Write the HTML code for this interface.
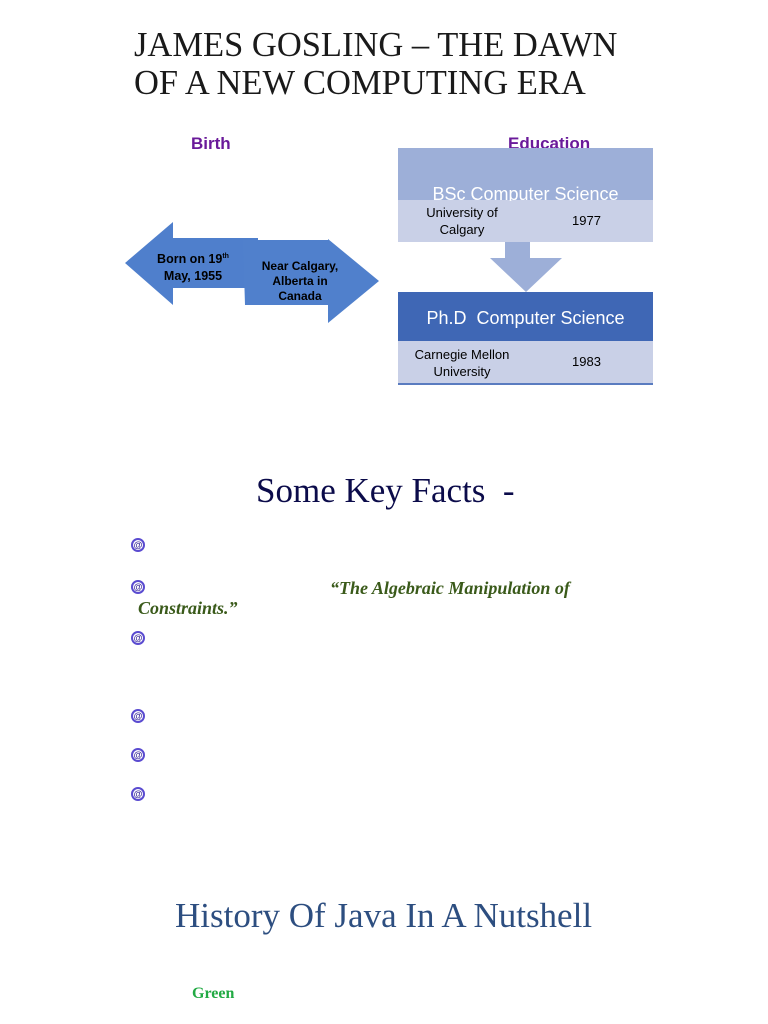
<!DOCTYPE html>
<html><head><meta charset="utf-8"><style>
body{margin:0;width:768px;height:1024px;background:#fff;position:relative;overflow:hidden}
.a{position:absolute;white-space:nowrap}
.serif{font-family:"Liberation Serif",serif}
.sans{font-family:"Liberation Sans",sans-serif}
.bul{position:absolute;left:131px;width:14px;height:14px;border-radius:50%;border:2px solid #5a4bd0;box-sizing:border-box;font:bold 9px "Liberation Sans",sans-serif;color:#3a2a9a;text-align:center;line-height:10px}
</style></head><body>
<div class="a serif" style="left:134px;top:26px;font-size:34.5px;line-height:38px;color:#1a1a1a">JAMES GOSLING – THE DAWN<br>OF A NEW COMPUTING ERA</div>
<div class="a sans" style="left:191px;top:134px;font-size:17px;font-weight:bold;color:#6a1a9a">Birth</div>
<div class="a sans" style="left:508px;top:134px;font-size:17px;font-weight:bold;color:#6a1a9a">Education</div>
<svg class="a" style="left:0;top:0" width="768" height="420">
<polygon points="125,263 173,222 173,238 258,238 258,288 173,288 173,305" fill="#4f7fcc"/>
<polygon points="243,240 328,240 328,239 379,281 328,323 328,305 245,305" fill="#5080cc"/>
<rect x="398" y="148" width="255" height="52" fill="#9dafd8"/>
<rect x="398" y="200" width="255" height="42" fill="#c9d0e7"/>
<polygon points="505,242 530,242 530,258 562,258 526,292 490,258 505,258" fill="#9dafd8"/>
<rect x="398" y="292" width="255" height="49" fill="#3f67b5"/>
<rect x="398" y="341" width="255" height="43" fill="#c9d0e7"/>
<rect x="398" y="383" width="255" height="2" fill="#5a7cc0"/>
</svg>
<div class="a sans" style="left:148px;top:248px;width:90px;text-align:center;font-size:12.5px;font-weight:bold;line-height:17px">Born on 19<sup style="font-size:7px">th</sup><br>May, 1955</div>
<div class="a sans" style="left:250px;top:259px;width:100px;text-align:center;font-size:12px;font-weight:bold;line-height:15px">Near Calgary,<br>Alberta in<br>Canada</div>
<div class="a sans" style="left:398px;top:184px;width:255px;height:17px;overflow:hidden;text-align:center;font-size:18px;color:#fff">BSc Computer Science</div>
<div class="a sans" style="left:412px;top:204px;width:100px;text-align:center;font-size:13px;line-height:17px">University of<br>Calgary</div>
<div class="a sans" style="left:572px;top:213px;font-size:13px">1977</div>
<div class="a sans" style="left:398px;top:308px;width:255px;text-align:center;font-size:18px;color:#fff">Ph.D &nbsp;Computer Science</div>
<div class="a sans" style="left:402px;top:346px;width:120px;text-align:center;font-size:13px;line-height:17px">Carnegie Mellon<br>University</div>
<div class="a sans" style="left:572px;top:354px;font-size:13px">1983</div>
<div class="a serif" style="left:256px;top:471px;font-size:35px;color:#0b0b4a">Some Key Facts &nbsp;-</div>
<div class="bul" style="top:538px">@</div>
<div class="bul" style="top:580px">@</div>
<div class="a serif" style="left:330px;top:578px;font-size:18px;font-weight:bold;font-style:italic;color:#3a5a1a">“The Algebraic Manipulation of</div>
<div class="a serif" style="left:138px;top:598px;font-size:18px;font-weight:bold;font-style:italic;color:#3a5a1a">Constraints.”</div>
<div class="bul" style="top:631px">@</div>
<div class="bul" style="top:709px">@</div>
<div class="bul" style="top:748px">@</div>
<div class="bul" style="top:787px">@</div>
<div class="a serif" style="left:175px;top:896px;font-size:35px;color:#2d4e80">History Of Java In A Nutshell</div>
<div class="a serif" style="left:192px;top:985px;font-size:16px;font-weight:bold;color:#22aa44">Green</div>
</body></html>
